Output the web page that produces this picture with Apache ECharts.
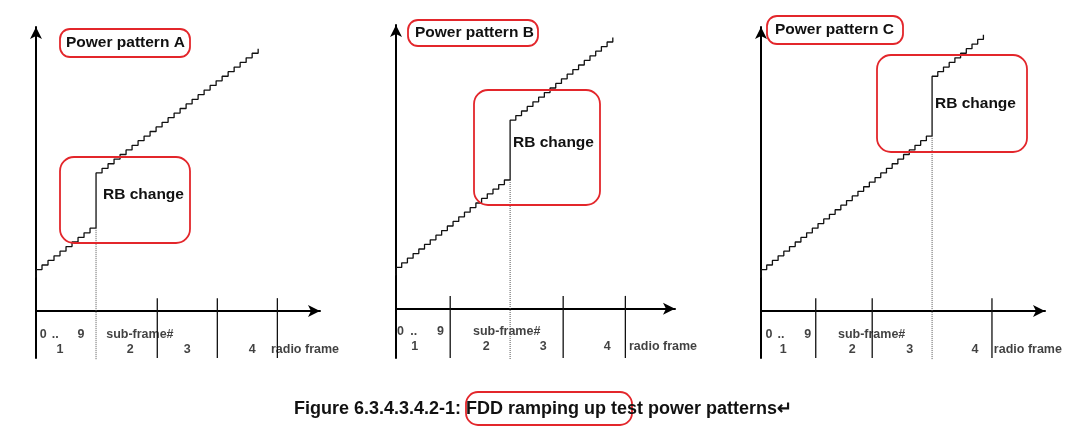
<!DOCTYPE html>
<html style="height: 100%">
<head>
<meta charset="utf-8">
<title>FDD ramping up</title>
<script src="https://cdn.jsdelivr.net/npm/echarts@6/dist/echarts.min.js"></script>
</head>
<body style="height: 100%; margin: 0; background: #fff">
<div id="container" style="width: 1080px; height: 433px"></div>
<script type="text/javascript">
// power level (in steps) per sub-frame, one array per pattern
var levelsA = [9,10,11,12,13,14,15,16,17,18,30,31,32,33,34,35,36,37,38,39,40,41,42,43,44,45,46,47,48,49,50,51,52,53,54,55,56,57];
var levelsB = [9,10,11,12,13,14,15,16,17,18,19,20,21,22,23,24,25,26,27,28,41,42,43,44,45,46,47,48,49,50,51,52,53,54,55,56,57,58,59];
var levelsC = [9,10,11,12,13,14,15,16,17,18,19,20,21,22,23,24,25,26,27,28,29,30,31,32,33,34,35,36,37,38,51,52,53,54,55,56,57,58,59,60];
var preLevel = 7.4;
// sub-frame index where the RB change happens
var jumps = [10, 20, 30];
// radio frame boundary positions (sub-frames)
var framesA = [20.2, 30.2, 40.2];
var framesB = [9.5, 29.3, 40.2];
var framesC = [9.6, 19.5, 40.5];
// text under the axis: [x, y, text]
var textsA = [[1.2,-5,'0'],[3.2,-5,'..'],[7.5,-5,'9'],[17.3,-5,'sub-frame#'],[4,-8.3,'1'],[15.7,-8.3,'2'],[25.2,-8.3,'3'],[36,-8.3,'4'],[44.8,-8.3,'radio frame']];
var textsB = [[0.8,-5,'0'],[3.1,-5,'..'],[7.8,-5,'9'],[19.4,-5,'sub-frame#'],[3.3,-8.3,'1'],[15.8,-8.3,'2'],[25.8,-8.3,'3'],[37,-8.3,'4'],[46.8,-8.3,'radio frame']];
var textsC = [[1.4,-5,'0'],[3.5,-5,'..'],[8.2,-5,'9'],[19.4,-5,'sub-frame#'],[3.9,-8.3,'1'],[16,-8.3,'2'],[26.1,-8.3,'3'],[37.5,-8.3,'4'],[46.8,-8.3,'radio frame']];

var myChart = echarts.init(document.getElementById('container'));
var red = '#e3262b';
var font = 'Arial, "Liberation Sans", sans-serif';

var grids = [
	{ left: 36, top: 27, width: 284, height: 331, xMax: 47.3, yMin: -10.2 },
	{ left: 396, top: 25, width: 279, height: 333, xMax: 48.9, yMin: -10.7 },
	{ left: 761, top: 27, width: 284, height: 331, xMax: 49.8, yMin: -10.2 }
];
var panels = [
	{ levels: levelsA, frames: framesA, texts: textsA, pre: -4.8 },
	{ levels: levelsB, frames: framesB, texts: textsB, pre: -4.9 },
	{ levels: levelsC, frames: framesC, texts: textsC, pre: -4.6 }
];

var series = [];
panels.forEach(function(p, i) {
	var stair = p.levels.map(function(v, k) { return [k, v]; });
	var base = { xAxisIndex: i, yAxisIndex: i, type: 'line', symbol: 'none', clip: false, silent: true, animation: false };
	series.push(Object.assign({}, base, { data: stair, step: 'end', lineStyle: { color: '#111', width: 1.3 } }));
	series.push(Object.assign({}, base, { data: [[p.pre, preLevel], [0, preLevel], [0, p.levels[0]]], lineStyle: { color: '#111', width: 1.3 } }));
	var j = jumps[i];
	series.push(Object.assign({}, base, { data: [[j, p.levels[j - 1]], [j, grids[i].yMin - 0.3]], lineStyle: { color: '#555', width: 1, type: 'dotted' } }));
	p.frames.forEach(function(f) {
		series.push(Object.assign({}, base, { data: [[f, 2.8], [f, grids[i].yMin]], lineStyle: { color: '#111', width: 1.3 } }));
	});
	series.push({
		type: 'scatter', xAxisIndex: i, yAxisIndex: i, symbolSize: 0, silent: true, animation: false,
		data: p.texts,
		label: { show: true, position: 'inside', formatter: function(q) { return q.data[2]; },
			color: '#111', fontSize: 12.5, fontWeight: 'bold', fontFamily: font }
	});
});

function box(x, y, w, h, r) {
	return { type: 'rect', shape: { x: x, y: y, width: w, height: h, r: r }, style: { fill: 'none', stroke: red, lineWidth: 1.8 }, z: 10 };
}
function txt(x, y, s, size) {
	return { type: 'text', x: x, y: y, style: { text: s, fill: '#111', font: 'bold ' + size + 'px ' + font, textVerticalAlign: 'middle' }, z: 11 };
}

var option = {
	animation: false,
	grid: grids.map(function(g) { return { left: g.left, top: g.top, width: g.width, height: g.height }; }),
	xAxis: grids.map(function(g, i) {
		return { type: 'value', gridIndex: i, min: 0, max: g.xMax,
			axisLine: { onZero: true, symbol: ['none', 'arrow'], symbolSize: [9, 12], lineStyle: { color: '#000', width: 2 } },
			axisTick: { show: false }, axisLabel: { show: false }, splitLine: { show: false } };
	}),
	yAxis: grids.map(function(g, i) {
		return { type: 'value', gridIndex: i, min: g.yMin, max: 61.7,
			axisLine: { show: true, onZero: true, symbol: ['none', 'arrow'], symbolSize: [9, 12], lineStyle: { color: '#000', width: 2 } },
			axisTick: { show: false }, axisLabel: { show: false }, splitLine: { show: false } };
	}),
	series: series,
	graphic: [
		box(60, 29, 130, 28, 10), txt(66, 43, 'Power pattern A', 15.5),
		box(408, 20, 130, 26, 10), txt(415, 33, 'Power pattern B', 15.5),
		box(767, 16, 136, 28, 10), txt(775, 30, 'Power pattern C', 15.5),
		box(60, 157, 130, 86, 14), txt(103, 195, 'RB change', 15.5),
		box(474, 90, 126, 115, 14), txt(513, 143, 'RB change', 15.5),
		box(877, 55, 150, 97, 14), txt(935, 104, 'RB change', 15.5),
		txt(294, 409, 'Figure 6.3.4.3.4.2-1: FDD ramping up test power patterns\u21b5', 18),
		box(466, 392, 166, 33, 12)
	]
};

myChart.setOption(option);
</script>
</body>
</html>
